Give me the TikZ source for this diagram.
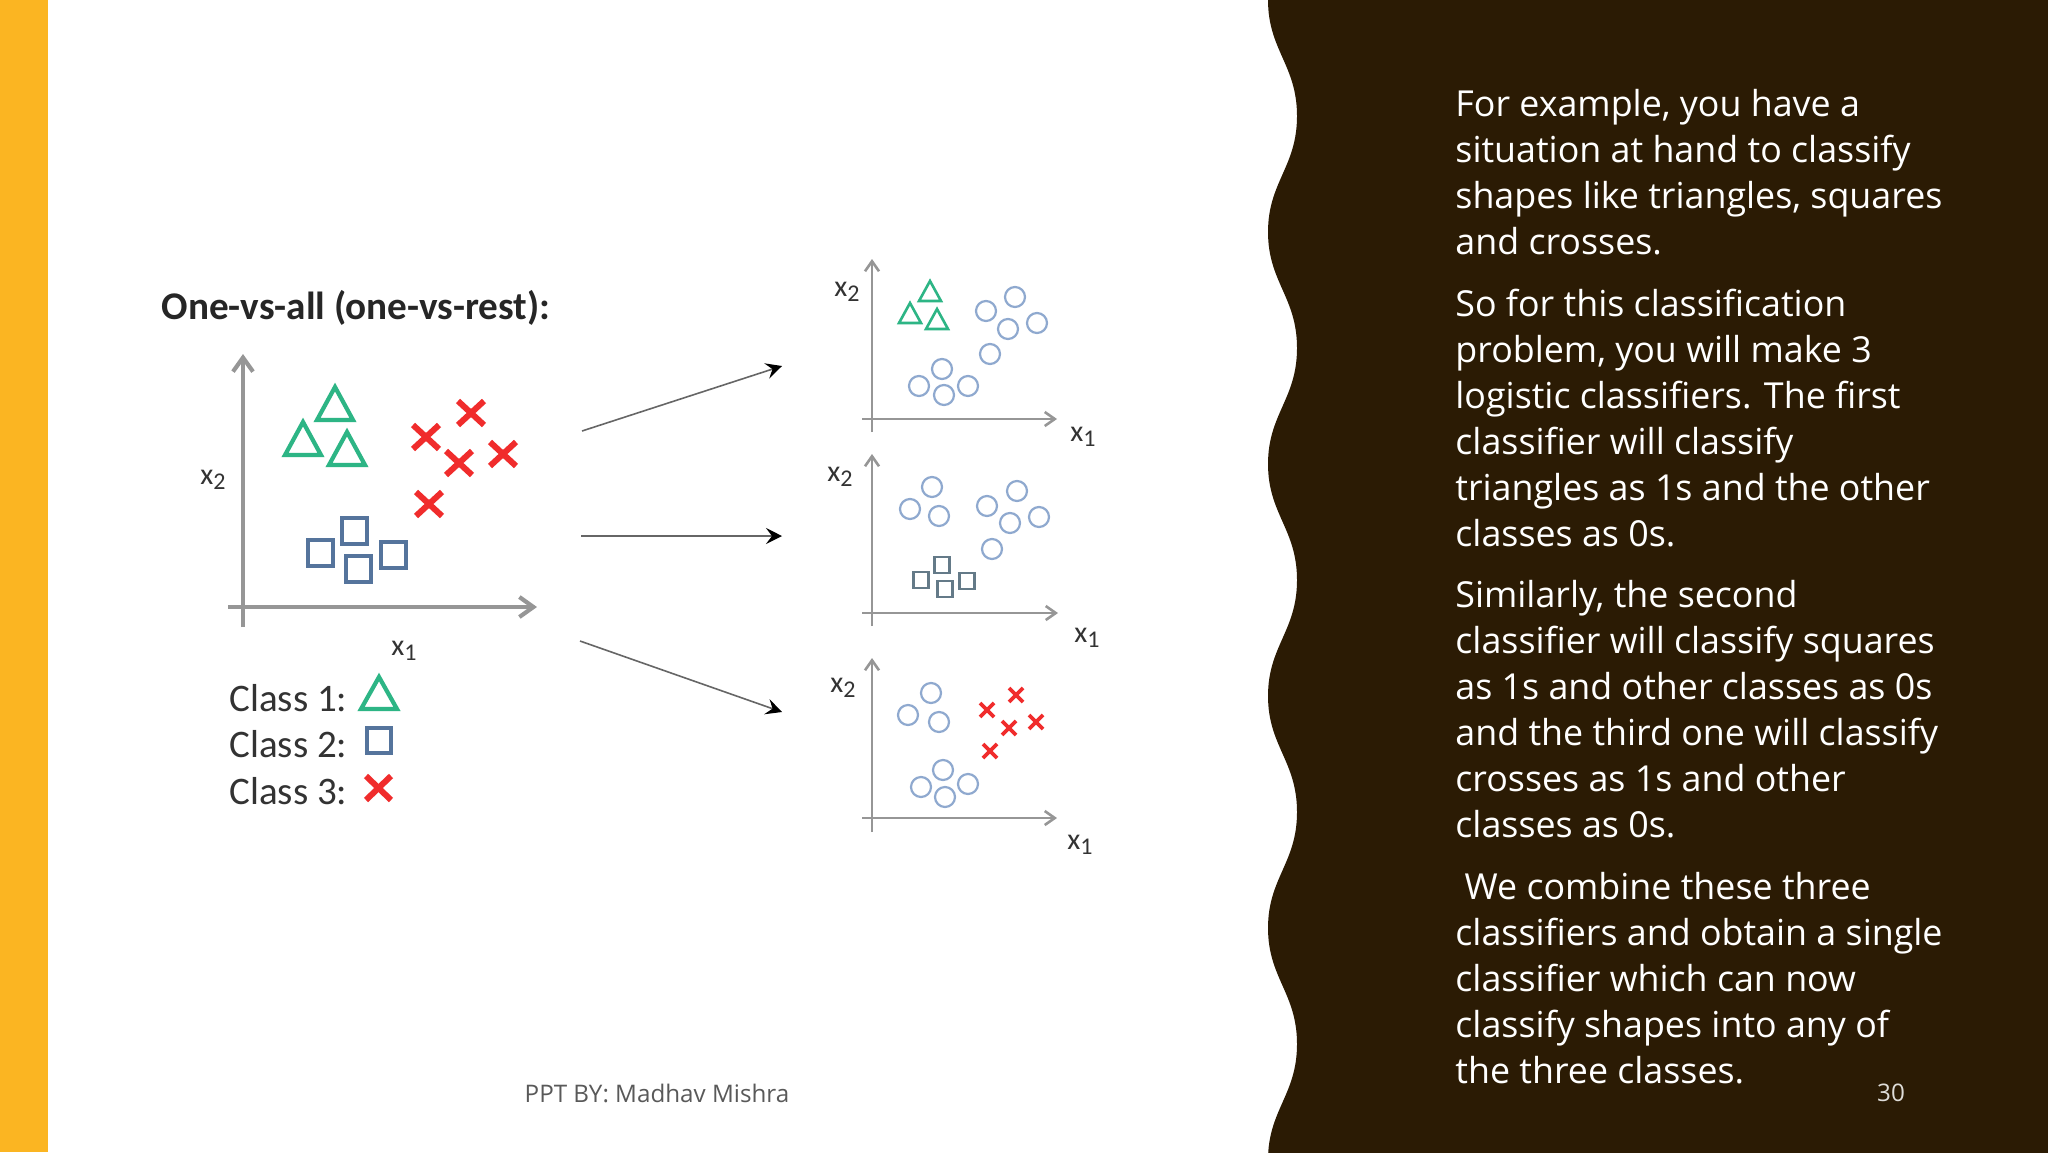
\documentclass[tikz,border=0pt]{standalone}
\usepackage{fontspec}
\setmainfont{Open Sans}
\newfontfamily\calfont{Carlito}
\usepackage{xcolor}
\usetikzlibrary{arrows.meta}
\definecolor{barc}{HTML}{FBB522}
\definecolor{darkc}{HTML}{2B1B04}
\definecolor{axisc}{HTML}{969696}
\definecolor{triC}{HTML}{2DB585}
\definecolor{squareC}{HTML}{55749C}
\definecolor{squareG}{HTML}{647A88}
\definecolor{crossC}{HTML}{F02C2C}
\definecolor{ringC}{HTML}{8FA9CF}
\definecolor{footC}{HTML}{595959}
\newcommand{\xsub}[1]{x\raisebox{-0.35ex}{\fontsize{0.8em}{0.8em}\selectfont #1}}
\tikzset{
  axisB/.style={draw=axisc, line width=2.1pt, -{Straight Barb[length=7pt,width=10pt]}},
  axisS/.style={draw=axisc, line width=1.3pt, -{Straight Barb[length=5pt,width=7pt]}},
  link/.style={draw=black!60, line width=0.8pt, -{Stealth[length=8pt,width=8pt,inset=3pt,color=black]}},
  triB/.style={draw=triC, line width=2.1pt},
  triS/.style={draw=triC, line width=1.3pt},
  squareB/.style={draw=squareC, line width=2pt},
  squareS/.style={draw=squareG, line width=1.3pt},
  crossB/.style={draw=crossC, line width=3pt},
  crossS/.style={draw=crossC, line width=1.8pt},
  ring/.style={draw=ringC, line width=1.1pt},
  axlab/.style={font=\calfont\fontsize{15}{15}\selectfont, text=black!80, inner sep=0pt},
  axlabS/.style={font=\calfont\fontsize{15}{15}\selectfont, text=black!80, inner sep=0pt},
  classlab/.style={font=\calfont\fontsize{19.5}{19.5}\selectfont, text=black!80, anchor=west, inner sep=0pt},
  body/.style={font=\fontsize{17.9}{23}\selectfont, text=white, anchor=north west, inner sep=0pt, align=left}
}
\begin{document}
\begin{tikzpicture}[x=0.5pt,y=-0.5pt]
  \useasboundingbox (0,0) rectangle (2048,1152);
  \fill[white] (0,0) rectangle (2048,1152);
  \fill[barc] (0,0) rectangle (48,1152);

  % wavy edge of the dark panel
  \fill[darkc] (2048,0) -- (1268,0)
    foreach \y in {0,232,464,696,928}{
      .. controls (1268,\y+50) and (1297,\y+65) .. (1297,\y+116)
      .. controls (1297,\y+167) and (1268,\y+182) .. (1268,\y+232)
    } -- (2048,1160) -- cycle;

  % left plot
  \node[font=\calfont\bfseries\fontsize{19.6}{19.6}\selectfont, text=black!85, inner sep=0pt] (title) at (356,308) {One-vs-all (one-vs-rest):};
  \draw[axisB] (243,627) -- (243,354);
  \draw[axisB] (228,607) -- (537,607);
  \node[axlab] (xb2) at (213,480) {\xsub{2}};
  \node[axlab] (xb1) at (404,651) {\xsub{1}};
  \foreach \x/\y in {335/387,303/422,347/432}
    \draw[triB] (\x-18,\y+33) -- (\x,\y) -- (\x+18,\y+33) -- cycle;
  \foreach \x/\y in {320/553,354/531,358/569,393/555}
    \draw[squareB] (\x-12.5,\y-13) rectangle (\x+12.5,\y+13);
  \foreach \x/\y in {426/437,471/413,459/463,503/454,429/504}{
    \draw[crossB] (\x-13,\y-12) -- (\x+13,\y+12);
    \draw[crossB] (\x-13,\y+12) -- (\x+13,\y-12);
  }

  % legend
  \node[classlab] (c1) at (229,698) {Class 1:};
  \node[classlab] (c2) at (229,744) {Class 2:};
  \node[classlab] (c3) at (229,791) {Class 3:};
  \draw[triB] (361,709) -- (379,677) -- (397,709) -- cycle;
  \draw[squareB] (367,728) rectangle (391,753);
  \draw[crossB] (366,776) -- (391,800);
  \draw[crossB] (366,800) -- (391,776);

  % arrows
  \coordinate (a1) at (582,431);
  \coordinate (a2) at (581,536);
  \coordinate (a3) at (580,641);
  \coordinate (b1) at (782,366);
  \coordinate (b2) at (782,536);
  \coordinate (b3) at (782,712);
  \draw[link] (a1) -- (b1);
  \draw[link] (a2) -- (b2);
  \draw[link] (a3) -- (b3);

  % top plot
  \draw[axisS] (872,432) -- (872,259);
  \draw[axisS] (862,419) -- (1057,419);
  \node[axlabS] (xa2) at (847,292) {\xsub{2}};
  \node[axlabS] (xa1) at (1083,437) {\xsub{1}};
  \foreach \x/\y in {930/281,910/303,937/309}
    \draw[triS] (\x-11,\y+20) -- (\x,\y) -- (\x+11,\y+20) -- cycle;
  \foreach \x/\y in {1015/297,986/311,1008/329,1037/323,990/354,942/369,919/386,944/395,968/386}
    \draw[ring] (\x,\y) circle (10);

  % middle plot
  \draw[axisS] (872,626) -- (872,454);
  \draw[axisS] (862,613) -- (1058,613);
  \node[axlabS] (xc2) at (840,477) {\xsub{2}};
  \node[axlabS] (xc1) at (1087,638) {\xsub{1}};
  \foreach \x/\y in {942/565,921/580,945/589,967/581}
    \draw[squareS] (\x-7.5,\y-8) rectangle (\x+7.5,\y+8);
  \foreach \x/\y in {932/487,910/509,939/516,1017/491,987/506,1010/523,1039/517,992/549}
    \draw[ring] (\x,\y) circle (10);

  % bottom plot
  \draw[axisS] (872,832) -- (872,658);
  \draw[axisS] (862,818) -- (1057,818);
  \node[axlabS] (xd2) at (843,688) {\xsub{2}};
  \node[axlabS] (xd1) at (1080,845) {\xsub{1}};
  \foreach \x/\y in {931/693,908/715,939/722,943/770,921/787,945/797,968/784}
    \draw[ring] (\x,\y) circle (10);
  \foreach \x/\y in {1016/695,987/710,1009/728,1036/722,990/751}{
    \draw[crossS] (\x-7,\y-7) -- (\x+7,\y+7);
    \draw[crossS] (\x-7,\y+7) -- (\x+7,\y-7);
  }

  % slide text
  \node[body] (para1) at (1455,89) {For example, you have a\\situation at hand to classify\\shapes like triangles, squares\\and crosses.};
  \node[body] (para2) at (1455,289) {So for this classification\\problem, you will make 3\\logistic classifiers. The first\\classifier will classify\\triangles as 1s and the other\\classes as 0s.};
  \node[body] (para3) at (1455,580) {Similarly, the second\\classifier will classify squares\\as 1s and other classes as 0s\\and the third one will classify\\crosses as 1s and other\\classes as 0s.};
  \node[body] (para4) at (1455,872) {\ We combine these three\\classifiers and obtain a single\\classifier which can now\\classify shapes into any of\\the three classes.};
  \node[font=\fontsize{12.1}{12.1}\selectfont, text=footC, inner sep=0pt] (foot) at (657,1093) {PPT BY: Madhav Mishra};
  \node[font=\fontsize{12.1}{12.1}\selectfont, text=white!85!darkc, inner sep=0pt] (pageno) at (1891,1093) {30};
\end{tikzpicture}
\end{document}
